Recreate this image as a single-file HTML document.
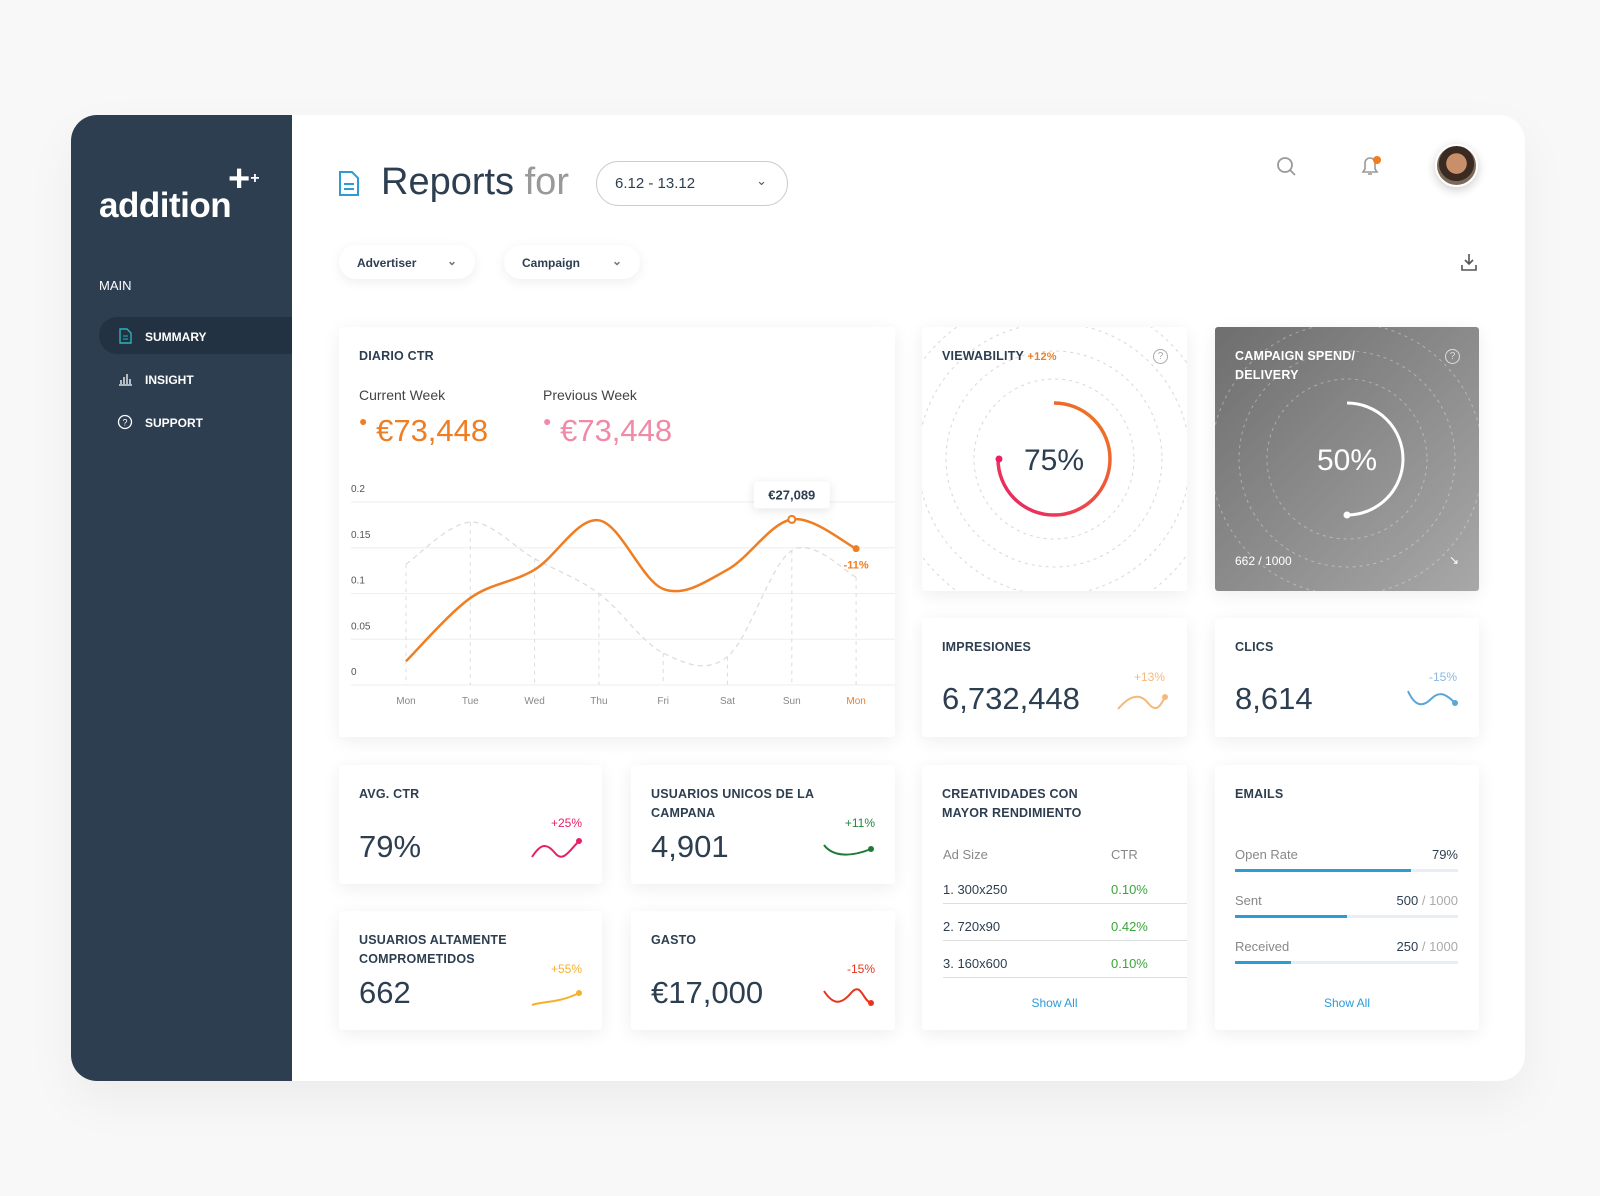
<!DOCTYPE html>
<html><head><meta charset="utf-8"><style>
*{box-sizing:border-box;margin:0;padding:0}
body{width:1600px;height:1196px;background:#f8f8f8;font-family:"Liberation Sans",sans-serif;color:#2d3e50;position:relative;overflow:hidden}
.abs{position:absolute}
.panel{left:71px;top:115px;width:1454px;height:966px;background:#fff;border-radius:26px;box-shadow:0 20px 50px rgba(0,0,0,.05);overflow:hidden}
.side{left:71px;top:115px;width:221px;height:966px;background:#2d3e50;border-radius:26px 0 0 26px}
.card{position:absolute;background:#fff;box-shadow:0 4px 18px rgba(0,0,0,.07);border-radius:3px}
.ttl{position:absolute;left:20px;top:20px;font-size:12.5px;font-weight:bold;letter-spacing:.2px;line-height:19px}
.big{position:absolute;left:20px;font-size:31px;color:#2d3e50}
.pct{position:absolute;font-size:12px}
.pill{position:absolute;height:34px;background:#fff;border-radius:17px;box-shadow:0 3px 12px rgba(0,0,0,.07);font-size:12px;font-weight:bold;padding:11px 0 0 18px}
.nav{position:absolute;left:145px;font-size:12px;font-weight:bold;color:#fff}
.tick{font-size:10px;fill:#555}
</style></head><body>
<div class="abs panel"></div>
<div class="abs side"></div>
<div class="abs" style="left:99px;top:186px;font-size:35px;font-weight:bold;color:#fff;letter-spacing:-.5px">addition</div>
<div class="abs" style="left:228px;top:160px;font-size:38px;font-weight:bold;color:#fff;line-height:38px">+<span style="font-size:16px;vertical-align:top">+</span></div>
<div class="abs" style="left:99px;top:278px;font-size:13px;color:#fff">MAIN</div>
<div class="abs" style="left:99px;top:317px;width:193px;height:37px;background:#233242;border-radius:18px 0 0 18px"></div>
<svg class="abs" style="left:118px;top:328px" width="14" height="16"><path d="M2 1h7l4 4v10H2z" fill="none" stroke="#2bb3b8" stroke-width="1.4"/><path d="M5 8h5M5 11h5" stroke="#2bb3b8"/></svg>
<div class="nav" style="top:330px">SUMMARY</div>
<svg class="abs" style="left:118px;top:371px" width="15" height="15"><path d="M1 14h13M3 13V9M6 13V6M9 13V3M12 13V8" stroke="#fff" stroke-width="1.3"/></svg>
<div class="nav" style="top:373px">INSIGHT</div>
<svg class="abs" style="left:117px;top:414px" width="16" height="16"><circle cx="8" cy="8" r="6.5" fill="none" stroke="#fff" stroke-width="1.3"/><text x="8" y="11.5" font-size="9" fill="#fff" text-anchor="middle">?</text></svg>
<div class="nav" style="top:416px">SUPPORT</div>

<svg class="abs" style="left:338px;top:170px" width="22" height="27"><path d="M2 2h12l6 6v17H2z" fill="none" stroke="#2e9bd6" stroke-width="2"/><path d="M6 14h10M6 19h10" stroke="#2e9bd6" stroke-width="2"/></svg>
<div class="abs" style="left:381px;top:161px;font-size:38px;color:#2d3e50">Reports <span style="color:#999">for</span></div>
<div class="abs" style="left:596px;top:161px;width:192px;height:45px;border:1px solid #ccc;border-radius:23px;font-size:15px;padding:13px 0 0 18px">6.12 - 13.12<span style="position:absolute;right:20px;top:11px;font-size:13px;color:#555">&#8964;</span></div>
<svg class="abs" style="left:1276px;top:156px" width="22" height="22"><circle cx="9" cy="9" r="7" fill="none" stroke="#999" stroke-width="1.8"/><path d="M14 14l5 5" stroke="#999" stroke-width="1.8"/></svg>
<svg class="abs" style="left:1358px;top:153px" width="26" height="26"><path d="M5 19h14l-2-3v-6a5 5 0 0 0-10 0v6z" fill="none" stroke="#999" stroke-width="1.6"/><path d="M10 21h4" stroke="#999" stroke-width="1.6"/><circle cx="19" cy="7" r="4" fill="#f07e1c"/></svg>
<div class="abs" style="left:1435px;top:144px;width:43px;height:43px;border-radius:50%;background:radial-gradient(circle at 50% 45%,#c98f6a 0 35%,#3a2a22 36% 60%,#7a6a5a 61%);border:2px solid #fff;box-shadow:0 3px 10px rgba(0,0,0,.2)"></div>

<div class="pill" style="left:339px;top:245px;width:136px">Advertiser<span style="position:absolute;right:18px;top:9px;color:#777">&#8964;</span></div>
<div class="pill" style="left:504px;top:245px;width:136px">Campaign<span style="position:absolute;right:18px;top:9px;color:#777">&#8964;</span></div>
<svg class="abs" style="left:1460px;top:252px" width="18" height="20"><path d="M9 2v10M5 8l4 4 4-4M2 13v5h14v-5" fill="none" stroke="#555" stroke-width="1.6"/></svg>

<!-- chart card -->
<div class="card" style="left:339px;top:327px;width:556px;height:410px">
 <div class="ttl">DIARIO CTR</div>
 <div class="abs" style="left:20px;top:60px;font-size:14px;color:#444">Current Week</div>
 <div class="abs" style="left:204px;top:60px;font-size:14px;color:#444">Previous Week</div>
 <div class="abs" style="left:20px;top:86px;font-size:31px;color:#ef7d22"><span style="font-size:14px;vertical-align:top">●</span> €73,448</div>
 <div class="abs" style="left:204px;top:86px;font-size:31px;color:#f08aa8"><span style="font-size:14px;vertical-align:top">●</span> €73,448</div>
</div>
<svg id="chart" class="abs" style="left:339px;top:327px" width="556" height="410"></svg>

<!-- viewability -->
<div class="card" style="left:922px;top:327px;width:265px;height:264px;overflow:hidden">
 <svg class="abs" style="left:0;top:0" width="265" height="264">
  <defs><linearGradient id="vg" x1="1" y1="0" x2="0" y2="1"><stop offset="0" stop-color="#f07e1c"/><stop offset="1" stop-color="#e8206a"/></linearGradient></defs>
  <g fill="none" stroke="#d8d8d8" stroke-dasharray="3 4"><circle cx="132" cy="132" r="80"/><circle cx="132" cy="132" r="108"/><circle cx="132" cy="132" r="136"/><circle cx="132" cy="132" r="164"/></g>
  <path d="M132 76 A56 56 0 1 1 76 132" fill="none" stroke="url(#vg)" stroke-width="3.5"/>
  <circle cx="77" cy="132" r="3.5" fill="#e8206a"/>
  <text x="132" y="143" font-size="30" text-anchor="middle" fill="#2d3e50">75%</text>
 </svg>
 <div class="ttl">VIEWABILITY <span style="color:#ef7d22;font-size:11px">+12%</span></div>
 <div class="abs" style="right:19px;top:22px;width:15px;height:15px;border:1px solid #aaa;border-radius:50%;font-size:10px;color:#aaa;text-align:center;line-height:13px">?</div>
</div>
<!-- campaign spend -->
<div class="card" style="left:1215px;top:327px;width:264px;height:264px;overflow:hidden;background:linear-gradient(135deg,#6e6e6e,#a8a8a8)">
 <svg class="abs" style="left:0;top:0" width="264" height="264">
  <g fill="none" stroke="rgba(255,255,255,.35)" stroke-dasharray="3 4"><circle cx="132" cy="132" r="80"/><circle cx="132" cy="132" r="108"/><circle cx="132" cy="132" r="136"/></g>
  <path d="M132 76 A56 56 0 0 1 132 188" fill="none" stroke="#fff" stroke-width="3"/>
  <circle cx="132" cy="188" r="3.5" fill="#fff"/>
  <text x="132" y="143" font-size="30" text-anchor="middle" fill="#fff">50%</text>
 </svg>
 <div class="ttl" style="color:#fff">CAMPAIGN SPEND/<br>DELIVERY</div>
 <div class="abs" style="right:19px;top:22px;width:15px;height:15px;border:1px solid #ddd;border-radius:50%;font-size:10px;color:#ddd;text-align:center;line-height:13px">?</div>
 <div class="abs" style="left:20px;top:227px;font-size:12px;color:#fff">662 / 1000</div>
 <div class="abs" style="right:20px;top:226px;font-size:12px;color:#fff">&#8600;</div>
</div>

<div class="card" style="left:922px;top:618px;width:265px;height:119px"><div class="ttl">IMPRESIONES</div><div class="big" style="top:63px">6,732,448</div><div class="pct" style="right:22px;top:52px;color:#f5b97a">+13%</div><svg class="abs" style="left:193px;top:67px" width="55" height="30"><path d="M3 24 C15 10 25 8 33 18 S45 22 50 12" fill="none" stroke="#f5b97a" stroke-width="2"/><circle cx="50" cy="12" r="3" fill="#f5b97a"/></svg></div>
<div class="card" style="left:1215px;top:618px;width:264px;height:119px"><div class="ttl">CLICS</div><div class="big" style="top:63px">8,614</div><div class="pct" style="right:22px;top:52px;color:#8ab8e0">-15%</div><svg class="abs" style="left:190px;top:67px" width="58" height="30"><path d="M3 6 C10 22 18 22 26 14 S40 8 50 18" fill="none" stroke="#5aa6d8" stroke-width="2"/><circle cx="50" cy="18" r="3" fill="#5aa6d8"/></svg></div>

<div class="card" style="left:339px;top:765px;width:263px;height:119px"><div class="ttl">AVG. CTR</div><div class="big" style="top:64px">79%</div><div class="pct" style="right:20px;top:51px;color:#e8206a">+25%</div><svg class="abs" style="left:190px;top:70px" width="58" height="30"><path d="M3 22 C12 8 18 8 26 18 S40 16 50 6" fill="none" stroke="#e8206a" stroke-width="2"/><circle cx="50" cy="6" r="3" fill="#e8206a"/></svg></div>
<div class="card" style="left:631px;top:765px;width:264px;height:119px"><div class="ttl">USUARIOS UNICOS DE LA<br>CAMPANA</div><div class="big" style="top:64px">4,901</div><div class="pct" style="right:20px;top:51px;color:#1f8a3a">+11%</div><svg class="abs" style="left:190px;top:72px" width="58" height="30"><path d="M3 8 C12 20 30 20 50 12" fill="none" stroke="#1f7a35" stroke-width="2"/><circle cx="50" cy="12" r="3" fill="#1f7a35"/></svg></div>
<div class="card" style="left:339px;top:911px;width:263px;height:119px"><div class="ttl">USUARIOS ALTAMENTE<br>COMPROMETIDOS</div><div class="big" style="top:64px">662</div><div class="pct" style="right:20px;top:51px;color:#f5b030">+55%</div><svg class="abs" style="left:190px;top:72px" width="58" height="30"><path d="M3 22 C15 18 30 20 50 10" fill="none" stroke="#f5b030" stroke-width="2"/><circle cx="50" cy="10" r="3" fill="#f5b030"/></svg></div>
<div class="card" style="left:631px;top:911px;width:264px;height:119px"><div class="ttl">GASTO</div><div class="big" style="top:64px">€17,000</div><div class="pct" style="right:20px;top:51px;color:#e8341c">-15%</div><svg class="abs" style="left:190px;top:72px" width="58" height="30"><path d="M3 8 C12 22 20 22 30 10 S42 18 50 20" fill="none" stroke="#e8341c" stroke-width="2"/><circle cx="50" cy="20" r="3" fill="#e8341c"/></svg></div>

<div class="card" style="left:922px;top:765px;width:265px;height:265px"><div class="ttl">CREATIVIDADES CON<br>MAYOR RENDIMIENTO</div>
 <div class="abs" style="left:21px;top:82px;font-size:13px;color:#888;width:223px">Ad Size<span style="position:absolute;left:168px">CTR</span></div>
 <div class="abs" style="left:21px;top:117px;width:244px;height:22px;border-bottom:1px solid #ddd;font-size:13px">1. 300x250<span style="position:absolute;left:168px;color:#3aa63a">0.10%</span></div>
 <div class="abs" style="left:21px;top:154px;width:244px;height:22px;border-bottom:1px solid #ddd;font-size:13px">2. 720x90<span style="position:absolute;left:168px;color:#3aa63a">0.42%</span></div>
 <div class="abs" style="left:21px;top:191px;width:244px;height:22px;border-bottom:1px solid #ddd;font-size:13px">3. 160x600<span style="position:absolute;left:168px;color:#3aa63a">0.10%</span></div>
 <div class="abs" style="left:0;width:265px;top:231px;text-align:center;font-size:12px;color:#2e9bd6">Show All</div>
</div>
<div class="card" style="left:1215px;top:765px;width:264px;height:265px"><div class="ttl">EMAILS</div>
 <div class="abs" style="left:20px;top:82px;width:223px;font-size:13px;color:#888">Open Rate<span style="position:absolute;right:0;color:#2d3e50">79%</span></div>
 <div class="abs" style="left:20px;top:104px;width:223px;height:3px;background:#e8eef3"><div style="width:79%;height:3px;background:#2e9bd6"></div></div>
 <div class="abs" style="left:20px;top:128px;width:223px;font-size:13px;color:#888">Sent<span style="position:absolute;right:0;color:#2d3e50">500 <span style="color:#aaa">/ 1000</span></span></div>
 <div class="abs" style="left:20px;top:150px;width:223px;height:3px;background:#e8eef3"><div style="width:50%;height:3px;background:#2e9bd6"></div></div>
 <div class="abs" style="left:20px;top:174px;width:223px;font-size:13px;color:#888">Received<span style="position:absolute;right:0;color:#2d3e50">250 <span style="color:#aaa">/ 1000</span></span></div>
 <div class="abs" style="left:20px;top:196px;width:223px;height:3px;background:#e8eef3"><div style="width:25%;height:3px;background:#2e9bd6"></div></div>
 <div class="abs" style="left:0;width:264px;top:231px;text-align:center;font-size:12px;color:#2e9bd6">Show All</div>
</div>

<script>
const days=["Mon","Tue","Wed","Thu","Fri","Sat","Sun","Mon"];
const currentWeek=[0.026,0.095,0.126,0.18,0.105,0.126,0.181,0.149];
const previousWeek=[0.132,0.178,0.138,0.10,0.035,0.031,0.147,0.118];
const yTicks=[0,0.05,0.1,0.15,0.2];
const tooltipLabel="€27,089";
const changeLabel="-11%";
const NS="http://www.w3.org/2000/svg";
const svg=document.getElementById('chart');
const X0=67,DX=64.3,Y0=358,YH=183;
function xs(i){return X0+i*DX}
function ys(v){return Y0-v/0.2*YH}
function mk(t,a,p){const e=document.createElementNS(NS,t);for(const k in a)e.setAttribute(k,a[k]);(p||svg).appendChild(e);return e}
function path(vals){const p=vals.map((v,i)=>[xs(i),ys(v)]);let d=`M${p[0][0]} ${p[0][1]}`;for(let i=0;i<p.length-1;i++){const a=p[i-1]||p[i],b=p[i],c=p[i+1],e=p[i+2]||c;d+=` C${b[0]+(c[0]-a[0])/6} ${b[1]+(c[1]-a[1])/6} ${c[0]-(e[0]-b[0])/6} ${c[1]-(e[1]-b[1])/6} ${c[0]} ${c[1]}`}return d}
yTicks.forEach(t=>{
 const g=mk('line',{x1:12,x2:556,y1:ys(t),y2:ys(t),stroke:'#eee'});
 
 const l=mk('text',{x:12,y:ys(t)-10,class:'tick'});l.textContent=t;
 
});
days.forEach((d,i)=>{
 const v=mk('line',{x1:xs(i),x2:xs(i),y1:ys(previousWeek[i]),y2:Y0,stroke:'#ddd','stroke-dasharray':'4 4'});
 
 const t=mk('text',{x:xs(i),y:Y0+19,class:'tick','text-anchor':'middle',fill:i==days.length-1?'#ef7d22':'#888'});
 t.textContent=d;t.style.fill=i==days.length-1?'#ef7d22':'#888';
 
});
const pw=mk('path',{d:path(previousWeek),fill:'none',stroke:'#ddd','stroke-width':1.3,'stroke-dasharray':'5 4'});

const cw=mk('path',{d:path(currentWeek),fill:'none',stroke:'#ef7d22','stroke-width':2.5});

const n=currentWeek.length;
const si=n-2;
const hp=mk('circle',{cx:xs(si),cy:ys(currentWeek[si]),r:3.5,fill:'#fff',stroke:'#ef7d22','stroke-width':2});

const lp=mk('circle',{cx:xs(n-1),cy:ys(currentWeek[n-1]),r:3.5,fill:'#ef7d22'});

const tb=mk('rect',{x:xs(si)-38,y:ys(currentWeek[si])-38,width:76,height:27,fill:'#fff',rx:3});
tb.style.filter='drop-shadow(0 2px 5px rgba(0,0,0,.1))';

const tt=mk('text',{x:xs(si),y:ys(currentWeek[si])-20,'text-anchor':'middle','font-size':13,'font-weight':'bold',fill:'#2d3e50'});tt.textContent=tooltipLabel;

const ch=mk('text',{x:xs(n-1),y:ys(currentWeek[n-1])+20,'text-anchor':'middle','font-size':11,'font-weight':'bold',fill:'#ef7d22'});ch.textContent=changeLabel;

</script>
</body></html>
